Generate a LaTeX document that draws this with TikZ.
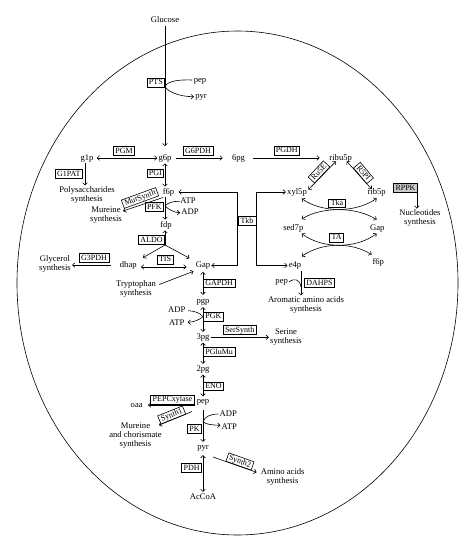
\documentclass[tikz,border=0pt]{standalone}
\usepackage{fontspec}
\setmainfont{Liberation Serif}
\usetikzlibrary{arrows.meta}
\tikzset{
  lbl/.style={font=\fontsize{8.6}{9}\selectfont, inner sep=1pt, text height=6pt, text depth=2pt},
  mlbl/.style={font=\fontsize{8.6}{9}\selectfont, inner sep=1pt, align=center},
  enz/.style={draw, line width=0.6pt, fill=white, font=\fontsize{8}{9}\selectfont, inner xsep=2pt, inner ysep=0.9pt, text height=5.8pt, text depth=1.2pt},
  arr/.style={-{Straight Barb[length=2.4pt,width=4.6pt]}},
  darr/.style={{Straight Barb[length=2.4pt,width=4.6pt]}-{Straight Barb[length=2.4pt,width=4.6pt]}},
}
\begin{document}
\begin{tikzpicture}[x=1pt,y=-1pt,line width=0.6pt]
\useasboundingbox (0,0) rectangle (474,551);
\draw (237.5,283) ellipse [x radius=220.5, y radius=252];

% metabolites and enzymes
\node[lbl] (glc) at (165,20.7) {Glucose};
\node[enz, anchor=east] (pts) at (165,82.5) {PTS};
\node[lbl] (pepA) at (200,80) {pep};
\node[lbl] (pyrA) at (201,96.7) {pyr};
\node[lbl] (g6p) at (165,158) {g6p};
\node[lbl] (g1p) at (87,158) {g1p};
\node[lbl] (pg6) at (238.5,158) {6pg};
\node[lbl] (ribu) at (340.7,158) {ribu5p};
\node[enz] (pgm) at (124,151) {PGM};
\node[enz] (g6pdh) at (198,151) {G6PDH};
\node[enz] (pgdh) at (286.7,150.5) {PGDH};
\node[enz] (g1pat) at (68.8,173.7) {G1PAT};
\node[mlbl] (poly) at (87,195.2) {Polysaccharides\\synthesis};
\node[enz, anchor=east] (pgi) at (164,173.3) {PGI};
\node[lbl] (f6p) at (168.5,192) {f6p};
\node[mlbl] (mur) at (106,215.5) {Mureine\\synthesis};
\node[enz, rotate=20] (murs) at (140,198) {MurSynth};
\node[enz, anchor=east] (pfk) at (164,207) {PFK};
\node[lbl] (atpA) at (188,201.3) {ATP};
\node[lbl] (adpA) at (190,212.7) {ADP};
\node[lbl] (fdp) at (166,225) {fdp};
\node[enz, anchor=east] (aldo) at (165,239.7) {ALDO};
\node[lbl] (dhap) at (128.3,265.5) {dhap};
\node[lbl] (gapL) at (203,265.5) {Gap};
\node[enz] (tis) at (165,259.5) {TIS};
\node[mlbl] (gly) at (55,263.7) {Glycerol\\synthesis};
\node[enz] (g3pdh) at (94,258) {G3PDH};
\node[mlbl] (trp) at (136,289) {Tryptophan\\synthesis};
\node[enz, minimum width=18pt] (tkb) at (247,221) {Tkb};
\node[lbl] (xyl) at (297,192) {xyl5p};
\node[lbl] (rib) at (376.7,192.5) {rib5p};
\node[lbl] (sed) at (293.3,228.3) {sed7p};
\node[lbl] (gapR) at (377.3,228.3) {Gap};
\node[lbl] (e4p) at (295,265.5) {e4p};
\node[lbl] (f6pR) at (378.3,262) {f6p};
\node[enz, rotate=47] (ru5e) at (319,172) {Ru5E};
\node[enz, rotate=-50] (r5pi) at (363.5,173) {R5PI};
\node[enz] (tka) at (337,203.3) {Tka};
\node[enz] (ta) at (336.7,237.5) {TA};
\node[enz, fill=gray!40] (rppk) at (405.5,187.8) {RPPK};
\node[mlbl] (nuc) at (420,218.3) {Nucleotides\\synthesis};
\node[lbl] (pepD) at (281.7,281.7) {pep};
\node[enz] (dahps) at (319.5,282.8) {DAHPS};
\node[mlbl] (arom) at (306,305.2) {Aromatic amino acids\\synthesis};
\node[enz, anchor=west] (gapdh) at (203,283.3) {GAPDH};
\node[lbl] (pgp) at (203,301.7) {pgp};
\node[enz, anchor=west] (pgk) at (203,316.5) {PGK};
\node[lbl] (adpB) at (176.7,310.7) {ADP};
\node[lbl] (atpB) at (176.7,323.3) {ATP};
\node[lbl] (pg3) at (203,337.3) {3pg};
\node[enz] (sers) at (239.7,329.7) {SerSynth};
\node[mlbl] (ser) at (286,337.2) {Serine\\synthesis};
\node[enz, anchor=west] (pglumu) at (203,352) {PGluMu};
\node[lbl] (pg2) at (203,369.3) {2pg};
\node[enz, anchor=west] (eno) at (203,386.2) {ENO};
\node[lbl] (pepL) at (203,401.7) {pep};
\node[enz] (pepc) at (172.5,399.5) {PEPCxylase};
\node[lbl] (oaa) at (136.7,405) {oaa};
\node[enz, rotate=21.7] (synth1) at (171.7,415) {Synth1};
\node[mlbl] (mur2) at (135.5,435.7) {Mureine\\and chorismate\\synthesis};
\node[enz, anchor=east] (pk) at (202,428.8) {PK};
\node[lbl] (adpC) at (228.3,414) {ADP};
\node[lbl] (atpC) at (229.3,427.3) {ATP};
\node[lbl] (pyrL) at (203,447.3) {pyr};
\node[enz, anchor=east] (pdh) at (202,468) {PDH};
\node[enz, rotate=-19.5] (synth2) at (240,461.5) {Synth2};
\node[mlbl] (amino) at (282.7,476.8) {Amino acids\\synthesis};
\node[lbl] (accoa) at (203,497.3) {AcCoA};

% junctions
\coordinate (ptsj) at (165,86.5);
\coordinate (pfkj) at (165,206);
\coordinate (murj) at (163,197.5);
\coordinate (aldoj) at (165,245);
\coordinate (g3j) at (111,265);
\coordinate (dj) at (301,287);
\coordinate (pgkj) at (203,316.7);
\coordinate (s1j) at (192,411.5);
\coordinate (pkj) at (203,421.7);

% connectors
\draw[arr] (glc.south) -- ([yshift=6.5pt]g6p.north);
\draw (pepA.west) .. controls (178,79.5) and (168,81) .. (ptsj);
\draw[arr] (ptsj) .. controls (168,92) and (180,96.7) .. (pyrA.west);
\draw[darr, shorten <=2pt] (g1p.east) -- (g6p.west);
\draw[arr, shorten <=3.5pt, shorten >=8pt] (g6p.east) -- (pg6.west);
\draw[arr, shorten <=7pt, shorten >=8.5pt] (pg6.east) -- (ribu.west);
\draw[arr] ([xshift=-2pt]g1p.south) -- ([xshift=-2pt]g1p.south |- poly.north);
\draw[darr] (g6p.south) -- (g6p.south |- f6p.north);
\draw[arr] (g6p.south |- f6p.south) -- (g6p.south |- fdp.north);
\draw ([xshift=1pt]atpA.west) .. controls (173,201) and (167,203) .. (pfkj);
\draw[arr] (pfkj) .. controls (168,209) and (174,212.7) .. (adpA.west);
\draw[arr] (murj) -- ([yshift=4.5pt]mur.east);
\draw[arr] (aldoj) -- (aldoj |- fdp.south);
\draw[arr] (aldoj) -- ([xshift=5pt,yshift=2.5pt]dhap.north east);
\draw[arr] (aldoj) -- ([xshift=-5pt,yshift=2pt]gapL.north west);
\draw[darr, shorten <=3pt, shorten >=8pt] ([yshift=-1.5pt]dhap.east) -- ([yshift=-1.5pt]gapL.west);
\draw[arr] (g3j) -- (g3j -| gly.east);
\draw[arr] ([xshift=2pt,yshift=4.5pt]trp.east) -- ([xshift=-1pt,yshift=-0.5pt]gapL.south west);
\draw[darr, shorten <=3pt] (f6p.east) -- (f6p.east -| tkb.west) -- (gapL.east -| tkb.west) -- (gapL.east);
\draw[darr] (xyl.west) -- (xyl.west -| tkb.east) -- (e4p.west -| tkb.east) -- (e4p.west);
\draw[darr] ([xshift=-4.7pt,yshift=2pt]ribu.south) -- ([xshift=11.3pt,yshift=-3pt]xyl.north);
\draw[darr] ([xshift=6pt,yshift=2pt]ribu.south) -- ([xshift=-5pt,yshift=-2pt]rib.north);
\draw[darr] ([xshift=4.7pt,yshift=-1.3pt]xyl.south) .. controls (322,213) and (356,213) .. ([yshift=-0.5pt]rib.south);
\draw[darr] ([xshift=8.4pt,yshift=4pt]sed.north) .. controls (322,206.5) and (356,206.5) .. ([xshift=-0.6pt,yshift=3.3pt]gapR.north);
\draw[darr] ([xshift=8.4pt]sed.south) .. controls (322,249) and (356,249) .. ([xshift=-0.6pt]gapR.south);
\draw[darr] ([xshift=6.7pt,yshift=3.8pt]e4p.north) .. controls (322,242) and (352,242) .. ([xshift=-6.6pt,yshift=2pt]f6pR.north);
\draw[arr] ([xshift=-1pt]rppk.south east) -- ([xshift=-1pt]rppk.south east |- nuc.north);
\draw[arr] ([xshift=6pt]e4p.south) -- ([xshift=6pt]e4p.south |- arom.north);
\draw (pepD.east) .. controls (294,278) and (300,279) .. (dj);
\draw[darr] ([yshift=-1pt]gapL.south) -- ([yshift=1.5pt]pgp.north);
\draw ([xshift=1.5pt]adpB.east) .. controls (195,311) and (200,313) .. (pgkj);
\draw[arr] (pgkj) .. controls (199,320) and (194,322) .. ([xshift=2pt,yshift=1pt]atpB.east);
\draw[darr] (pgp.south) -- (pg3.north);
\draw[arr] (pg3.east) -- (pg3.east -| ser.west);
\draw[darr] (pg3.south) -- (pg2.north);
\draw[darr] (pg2.south) -- (pepL.north);
\draw[arr, shorten >=4pt] ([yshift=-3.3pt]pepL.west) -- ([yshift=-3.3pt]pepL.west -| oaa.east);
\draw[arr] (s1j) -- ([xshift=-4pt,yshift=10.5pt]mur2.east);
\draw[arr] ([yshift=-3pt]pepL.south) -- (pyrL.north);
\draw (adpC.west) .. controls (210,414) and (204.5,417) .. (pkj);
\draw[arr] (pkj) .. controls (206,424.5) and (212,425) .. ([yshift=2pt]atpC.west);
\draw[darr] ([yshift=-2.5pt]pyrL.south) -- (accoa.north);
\draw[arr] ([xshift=3pt,yshift=-4.4pt]pyrL.south east) -- ([xshift=-3pt,yshift=4.5pt]amino.west);
\end{tikzpicture}
\end{document}
